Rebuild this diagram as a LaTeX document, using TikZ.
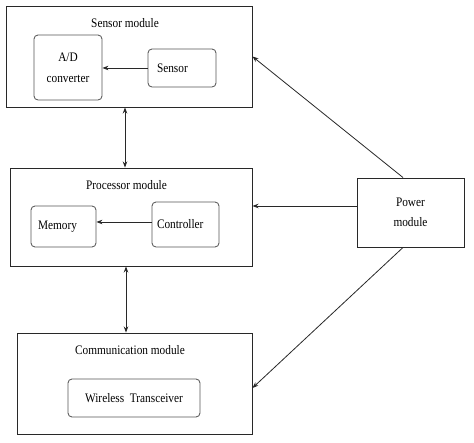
\documentclass[tikz,border=0pt]{standalone}
\usepackage{fontspec}
\setmainfont[FakeStretch=0.87]{Liberation Serif}
\usepackage{tikz}
\usetikzlibrary{arrows.meta,positioning}
\definecolor{mdline}{RGB}{40,40,40}
\definecolor{unitline}{RGB}{85,85,85}
\tikzstyle{module} = [rectangle, draw=mdline, line width=0.95pt, inner sep=0pt]
\tikzstyle{unit} = [rectangle, rounded corners=4pt, draw=unitline, line width=0.85pt, align=left, inner sep=0pt]
\tikzstyle{title} = [anchor=north, inner sep=0pt]
\tikzstyle{arrow} = [line width=0.8pt, -{Stealth[length=6pt,width=4.5pt]}, color=mdline]
\tikzstyle{twoway} = [line width=0.8pt, {Stealth[length=6pt,width=4.5pt]}-{Stealth[length=6pt,width=4.5pt]}, color=mdline]

\begin{document}
\begin{tikzpicture}[x=1pt, y=-1pt, font=\fontsize{13}{15}\selectfont]
\useasboundingbox (0,0) rectangle (474,443);
% Modules
\node (sensormod) [module, minimum width=246pt, minimum height=101pt] at (129,56.5) {};
\node (procmod) [module, minimum width=242pt, minimum height=98pt] at (131,217) {};
\node (commmod) [module, minimum width=235pt, minimum height=101pt] at (134.5,383.5) {};
\node (power) [module, minimum width=107pt, minimum height=69pt, align=center] at (410.5,212.5) {Power\\[5pt]module};

% Titles
\node[title] at ([xshift=-4pt, yshift=-13pt]sensormod.north) {Sensor module};
\node[title] at ([xshift=-4.5pt, yshift=-13pt]procmod.north) {Processor module};
\node[title] at ([xshift=-4.5pt, yshift=-13pt]commmod.north) {Communication module};

% Units
\node (adc) [unit, align=center, minimum width=68pt, minimum height=65pt] at (68,67.5) {A/D\\[6pt]converter};
\node (sensor) [unit, text width=50pt, inner xsep=9pt, minimum height=38pt] at (182,68) {Sensor};
\node (memory) [unit, text width=51pt, inner xsep=7pt, minimum height=41pt] at (63.5,226.5) {Memory};
\node (controller) [unit, text width=57pt, inner xsep=5pt, minimum height=45pt] at (185.5,224.5) {Controller};
\node (wireless) [unit, align=center, minimum width=132pt, minimum height=38pt] at (134,398) {Wireless\ \ Transceiver};

% Arrow ends
\coordinate (ctrlout) at ([yshift=2.5pt]controller.west);
\coordinate (pwrout) at ([yshift=6.5pt]power.west);

% Arrows
\draw[arrow] (sensor.west) -- (adc.east |- sensor.west);
\draw[arrow] (ctrlout) -- (memory.east |- ctrlout);
\draw[twoway] ([xshift=-4pt]sensormod.south) -- ([xshift=-4pt]sensormod.south |- procmod.north);
\draw[twoway] ([xshift=-5pt]procmod.south) -- ([xshift=-5pt]procmod.south |- commmod.north);
\draw[arrow] ([xshift=-7.5pt]power.north) -- (sensormod.east);
\draw[arrow] (pwrout) -- (procmod.east |- pwrout);
\draw[arrow] ([xshift=-7.5pt]power.south) -- ([yshift=-4.5pt]commmod.east);
\end{tikzpicture}
\end{document}
